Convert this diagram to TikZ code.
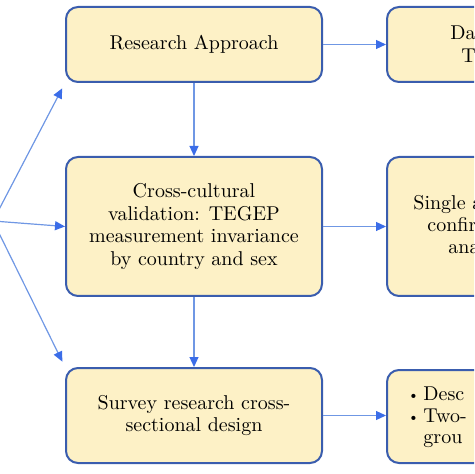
\documentclass[tikz,border=0pt]{standalone}
\usetikzlibrary{arrows.meta}
\definecolor{boxfill}{HTML}{FDF1C6}
\definecolor{boxline}{HTML}{3A5DAE}
\definecolor{linkline}{HTML}{6F97E4}
\definecolor{tipblue}{HTML}{3B6DE8}
\tikzset{
  phase/.style={draw=boxline, line width=1pt, fill=boxfill, rounded corners=6pt,
    minimum width=128pt, align=center, inner sep=0pt,
    font=\fontsize{10}{11.2}\selectfont},
  link/.style={draw=linkline, line width=0.6pt,
    -{Triangle[length=5pt,width=4.5pt,color=tipblue]}},
  cut/.style={inner sep=0pt, anchor=base west, font=\fontsize{10}{11.2}\selectfont}
}
\begin{document}
\begin{tikzpicture}[x=0.5pt,y=-0.5pt]
    \useasboundingbox (0,0) rectangle (474,474);
    \clip (0,0) rectangle (474,474);
    % left column
    \node [phase, minimum height=37.5pt] (ra) at (194,44.5) {Research Approach};
    \node [phase, minimum height=69.5pt] (cv) at (194,226.5) {Cross-cultural\\validation: TEGEP\\measurement invariance\\by country and sex};
    \node [phase, minimum height=47.5pt] (sr) at (194,415.5) {Survey research cross-\\sectional design};
    % right column, cut by the edge
    \node [phase, minimum height=37.5pt] (ta) at (515,44.5) {};
    \node [phase, minimum height=69.5pt] (fa) at (515,226.5) {};
    \node [phase, minimum height=46.5pt] (st) at (515,416.5) {};
    \node [cut] (ta1) at (450,40) {Da};
    \node [cut] (ta2) at (461,63) {T};
    \node [cut] (fa1) at (413,210) {Single a};
    \node [cut] (fa2) at (427,232) {confir};
    \node [cut] (fa3) at (448,254) {ana};
    \node [cut, font=\scriptsize] (st0) at (407,399) {\textbullet};
    \node [cut] (st1) at (423,400) {Desc};
    \node [cut, font=\scriptsize] (sb0) at (407,421) {\textbullet};
    \node [cut] (st2) at (423,422) {Two-};
    \node [cut] (st3) at (423,443) {grou};
    % source outside the frame
    \coordinate (src) at (-7,221);
    \draw [link, shorten >=3pt] (src) -- (ra.south west);
    \draw [link] (src) -- (cv.west);
    \draw [link, shorten >=3pt] (src) -- (sr.north west);
    \draw [link] (ra.south) -- (cv.north);
    \draw [link] (cv.south) -- (sr.north);
    \draw [link] (ra.east) -- (ta.west);
    \draw [link] (cv.east) -- (fa.west);
    \draw [link] (sr.east) -- (sr.east -| st.west);
  \end{tikzpicture}
\end{document}
